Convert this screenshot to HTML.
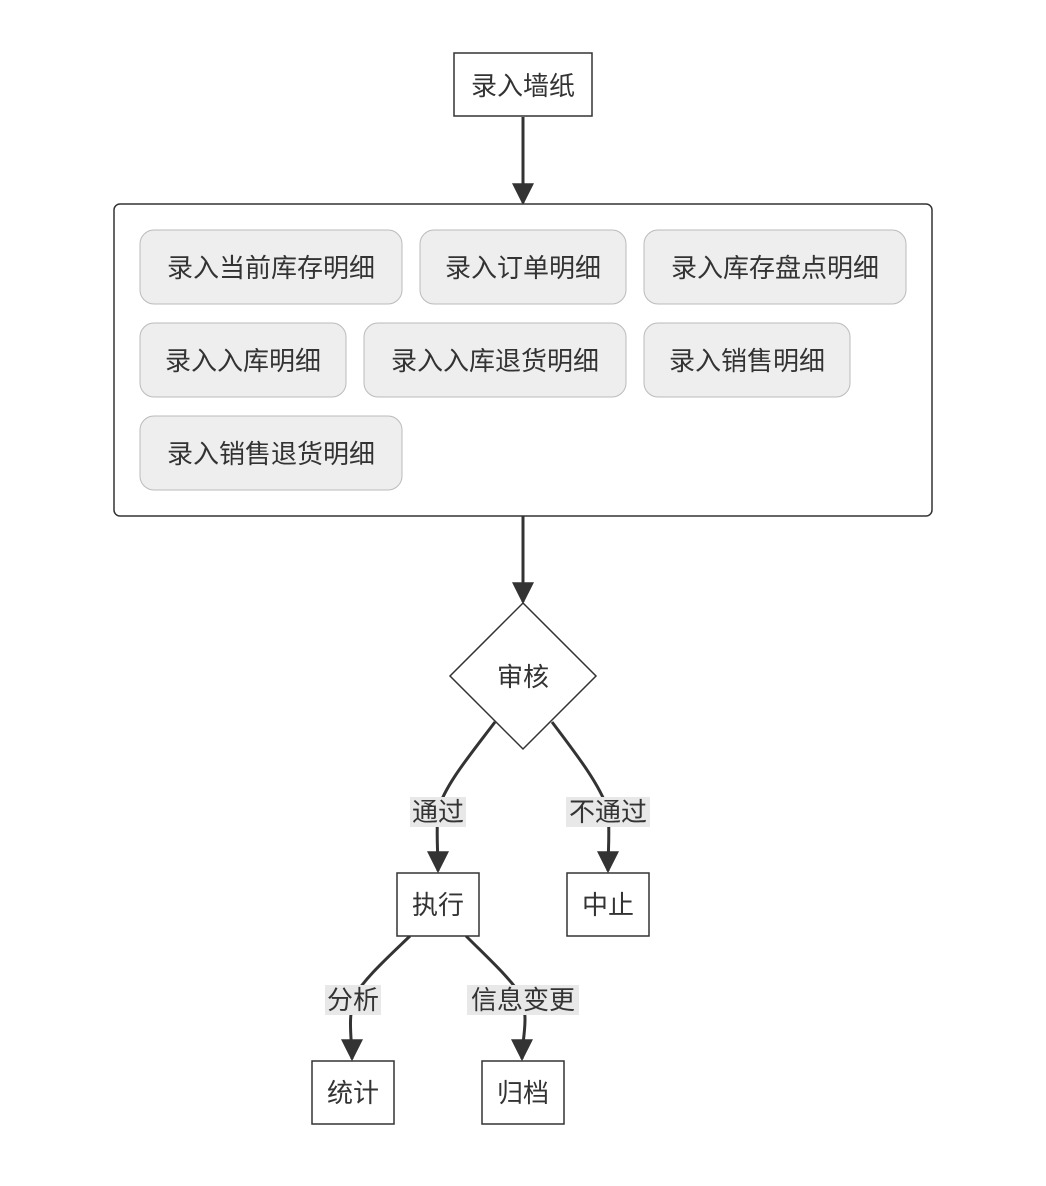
<!DOCTYPE html>
<html><head><meta charset="utf-8"><style>
html,body{margin:0;padding:0;background:#fff;}
svg text{font-family:"Liberation Sans","Noto Sans CJK SC",sans-serif;fill:#333;font-size:26px;text-anchor:middle;dominant-baseline:central;}
</style></head><body>
<svg width="1046" height="1181" viewBox="0 0 1046 1181" xmlns="http://www.w3.org/2000/svg">
<defs><marker id="a" markerWidth="10" markerHeight="10" refX="8" refY="5" orient="auto" markerUnits="userSpaceOnUse" viewBox="0 0 10 10"><path d="M0,0 L10,5 L0,10 z" fill="#333"/></marker>
<marker id="b" viewBox="0 0 10 10" refX="9" refY="5" markerWidth="22" markerHeight="22" orient="auto" markerUnits="userSpaceOnUse"><path d="M0,0 L10,5 L0,10 z" fill="#333"/></marker></defs>
<g fill="none" stroke="#333" stroke-width="3">
<path d="M523,117 V203" marker-end="url(#b)"/>
<path d="M523,516 V602" marker-end="url(#b)"/>
<path d="M495,722 C470,755 445,785 438,810 C436,835 438,850 438,871" marker-end="url(#b)"/>
<path d="M552,722 C577,755 600,785 608,810 C610,835 608,850 608,871" marker-end="url(#b)"/>
<path d="M410,936 C385,960 365,978 353,998 C348,1025 352,1040 352,1059" marker-end="url(#b)"/>
<path d="M466,936 C490,960 510,978 523,998 C528,1025 522,1040 522,1059" marker-end="url(#b)"/>
</g>
<g stroke="#333" stroke-width="1.5" fill="#fff">
<rect x="454" y="53" width="138" height="63"/>
<rect x="114" y="204" width="818" height="312" rx="6"/>
<polygon points="523,603 596,676 523,749 450,676"/>
<rect x="397" y="873" width="82" height="63"/>
<rect x="567" y="873" width="82" height="63"/>
<rect x="312" y="1061" width="82" height="63"/>
<rect x="482" y="1061" width="82" height="63"/>
</g>
<g stroke="#bbb" stroke-width="1" fill="#eee">
<rect x="140" y="230" width="262" height="74" rx="14"/>
<rect x="420" y="230" width="206" height="74" rx="14"/>
<rect x="644" y="230" width="262" height="74" rx="14"/>
<rect x="140" y="323" width="206" height="74" rx="14"/>
<rect x="364" y="323" width="262" height="74" rx="14"/>
<rect x="644" y="323" width="206" height="74" rx="14"/>
<rect x="140" y="416" width="262" height="74" rx="14"/>
</g>
<g fill="#e8e8e8">
<rect x="410" y="797" width="56" height="30"/>
<rect x="566" y="797" width="84" height="30"/>
<rect x="325" y="985" width="56" height="30"/>
<rect x="467" y="985" width="112" height="30"/>
</g>
<text x="523" y="86">录入墙纸</text>
<text x="271" y="268">录入当前库存明细</text>
<text x="523" y="268">录入订单明细</text>
<text x="775" y="268">录入库存盘点明细</text>
<text x="243" y="361">录入入库明细</text>
<text x="495" y="361">录入入库退货明细</text>
<text x="747" y="361">录入销售明细</text>
<text x="271" y="454">录入销售退货明细</text>
<text x="523" y="677">审核</text>
<text x="438" y="812">通过</text>
<text x="608" y="812">不通过</text>
<text x="438" y="905">执行</text>
<text x="608" y="905">中止</text>
<text x="353" y="1000">分析</text>
<text x="523" y="1000">信息变更</text>
<text x="353" y="1093">统计</text>
<text x="523" y="1093">归档</text>
</svg>
</body></html>
